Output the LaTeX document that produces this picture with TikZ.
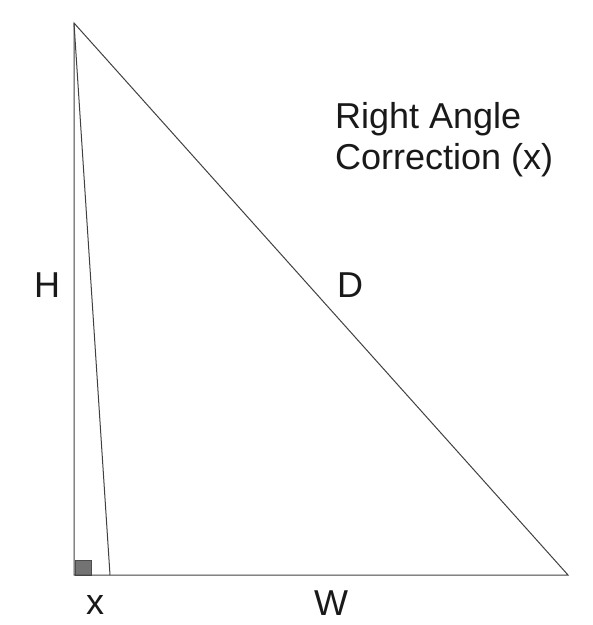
\documentclass[tikz,border=0pt]{standalone}
\usepackage{fontspec}
\setmainfont{Liberation Sans}
\begin{document}
\begin{tikzpicture}[x=1pt,y=-1pt,
  edge/.style={draw=black!75,line width=1pt},
  lbl/.style={font=\fontsize{36}{41}\selectfont,inner sep=0pt,text=black!90}]
\useasboundingbox (0,0) rectangle (593,625);
\coordinate (T) at (74,23);
\coordinate (O) at (74,575);
\coordinate (R) at (568,575);
\coordinate (X) at (110,575);
\fill[black!55,draw=black!70,line width=0.8pt] (75,560) rectangle (91,575);
\draw[edge] (T) -- (O) -- (R) -- cycle;
\draw[edge] (T) -- (X);
\node[lbl,anchor=base west] (t1) at (335,128) {Right Angle};
\node[lbl,anchor=base west] (t2) at (335,169) {Correction (x)};
\node[lbl,anchor=base] (h) at (47,297) {H};
\node[lbl,anchor=base] (d) at (350,297) {D};
\node[lbl,anchor=base] (x) at (95,614) {x};
\node[lbl,anchor=base] (w) at (331,615) {W};
\end{tikzpicture}
\end{document}
